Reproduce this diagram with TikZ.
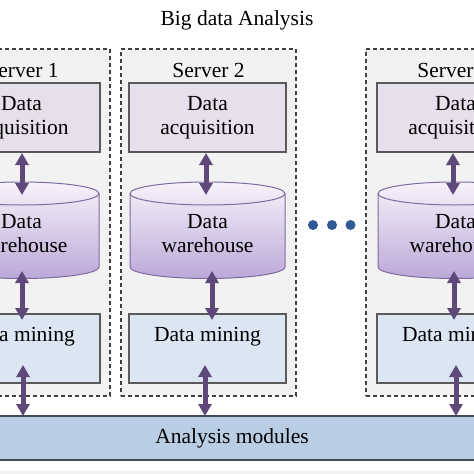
\documentclass[tikz,border=0pt]{standalone}
\usepackage{fontspec}
\setmainfont{Liberation Serif}
\usetikzlibrary{arrows.meta,calc}
\definecolor{srvfill}{HTML}{F2F2F2}
\definecolor{srvdraw}{HTML}{404040}
\definecolor{acqfill}{HTML}{E5E0EC}
\definecolor{boxdraw}{HTML}{595959}
\definecolor{dmfill}{HTML}{DCE6F2}
\definecolor{barfill}{HTML}{B9CDE5}
\definecolor{bardraw}{HTML}{3F4A55}
\definecolor{whtop}{HTML}{F6F3FA}
\definecolor{whbot}{HTML}{BCA8D8}
\definecolor{whdraw}{HTML}{7F6A9E}
\definecolor{arrcol}{HTML}{5F497A}
\definecolor{dotcol}{HTML}{2F5A96}
\begin{document}
\begin{tikzpicture}[x=1pt,y=-1pt,
  font=\fontsize{21.5}{24}\selectfont,
  srvbox/.style={draw=srvdraw, fill=srvfill, dashed, dash pattern=on 4pt off 3pt, line width=1.2pt, inner sep=0pt, outer sep=0pt, minimum width=175pt, minimum height=347pt},
  acqbox/.style={draw=boxdraw, fill=acqfill, line width=1.1pt, inner sep=0pt, outer sep=0pt, minimum width=157pt, minimum height=69pt, align=center},
  dmbox/.style={draw=boxdraw, fill=dmfill, line width=1.1pt, inner sep=0pt, outer sep=0pt, minimum width=157pt, minimum height=69pt, text height=16pt, text depth=30pt},
  barbox/.style={draw=bardraw, fill=barfill, line width=1.5pt, inner sep=0pt, outer sep=0pt, minimum width=520pt, minimum height=44pt},
  cyl/.style={top color=whtop, bottom color=whbot, draw=whdraw, line width=1pt},
  arr/.style={{Triangle[width=13pt 0,length=12pt 0]}-{Triangle[width=13pt 0,length=12pt 0]}, line width=5pt, draw=arrcol},
  dotnode/.style={circle, fill=dotcol, inner sep=0pt, minimum size=10pt}]
\useasboundingbox (0,0) rectangle (474,474);
\clip (0,0) rectangle (474,474);
\fill[white] (0,0) rectangle (474,474);
\fill[srvfill] (0,471) rectangle (474,474);

\node (title) at (237,20) {Big data Analysis};

\foreach \n/\cx/\bx/\a/\b/\c/\lab in {1/21.5/22.5/22/22/23/Server 1, 2/207.5/208.5/206/212/205/Server 2, 3/455.5/453.5/453/454/456/Server 3}{
  \node[srvbox] (srv\n) at (\bx,222.5) {};
  \node (sl\n) at (\bx,70) {\lab};
  \node[acqbox] (acq\n) at (\cx,117.5) {Data\\acquisition};
  \shadedraw[cyl] (\cx-77.5,193.5) -- (\cx-77.5,267)
     arc[start angle=180, end angle=360, x radius=77.5pt, y radius=11.5pt]
     -- (\cx+77.5,193.5)
     arc[start angle=0, end angle=180, x radius=77.5pt, y radius=11.5pt] -- cycle;
  \draw[draw=whdraw, line width=1pt] (\cx-77.5,193.5)
     arc[start angle=180, end angle=360, x radius=77.5pt, y radius=11.5pt];
  \coordinate (wht\n) at (\cx,193.5);
  \coordinate (whb\n) at (\cx,267);
  \node[align=center] (wh\n) at (\cx,233.5) {Data\\warehouse};
  \node[dmbox] (dm\n) at (\cx,348.5) {Data mining};
}

\node[barbox] (bar) at (232,438) {Analysis modules};

\foreach \n/\cx/\a/\b/\c in {1/21.5/22/22/23, 2/207.5/206/212/205, 3/455.5/453/454/456}{
  \draw[arr] ($(acq\n.south)+(\a-\cx,1)$) -- ($(wht\n)+(\a-\cx,1.5)$);
  \draw[arr] ($(whb\n)+(\b-\cx,4)$) -- ($(dm\n.north)+(\b-\cx,6)$);
  \draw[arr] ($(dm\n.south)+(\c-\cx,-18)$) coordinate (t\n) -- (t\n |- bar.north);
}

\node[dotnode] (d1) at (313,225) {};
\node[dotnode] (d2) at (332,225) {};
\node[dotnode] (d3) at (350.5,225) {};
\end{tikzpicture}
\end{document}
